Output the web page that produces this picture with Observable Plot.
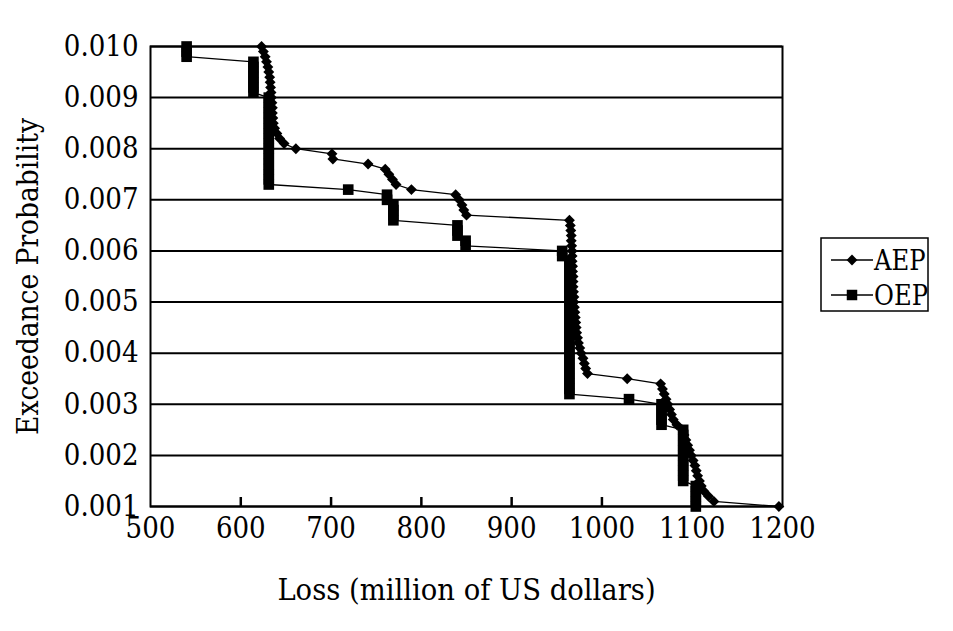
<!DOCTYPE html>
<html><head><meta charset="utf-8">
<script src="https://cdn.jsdelivr.net/npm/d3@7"></script>
<script src="https://cdn.jsdelivr.net/npm/@observablehq/plot@0.6"></script>
<style>
html,body{margin:0;padding:0;background:#fff;}
#chart{position:relative;width:953px;height:631px;}
</style></head><body><div id="chart"></div>
<script>
const probabilities = [
  0.0100, 0.0099, 0.0098, 0.0097, 0.0096, 0.0095, 0.0094, 0.0093, 0.0092, 0.0091,
  0.0090, 0.0089, 0.0088, 0.0087, 0.0086, 0.0085, 0.0084, 0.0083, 0.0082, 0.0081,
  0.0080, 0.0079, 0.0078, 0.0077, 0.0076, 0.0075, 0.0074, 0.0073, 0.0072, 0.0071,
  0.0070, 0.0069, 0.0068, 0.0067, 0.0066, 0.0065, 0.0064, 0.0063, 0.0062, 0.0061,
  0.0060, 0.0059, 0.0058, 0.0057, 0.0056, 0.0055, 0.0054, 0.0053, 0.0052, 0.0051,
  0.0050, 0.0049, 0.0048, 0.0047, 0.0046, 0.0045, 0.0044, 0.0043, 0.0042, 0.0041,
  0.0040, 0.0039, 0.0038, 0.0037, 0.0036, 0.0035, 0.0034, 0.0033, 0.0032, 0.0031,
  0.0030, 0.0029, 0.0028, 0.0027, 0.0026, 0.0025, 0.0024, 0.0023, 0.0022, 0.0021,
  0.0020, 0.0019, 0.0018, 0.0017, 0.0016, 0.0015, 0.0014, 0.0013, 0.0012, 0.0011,
  0.0010
];
const aepLoss = [
  623, 625, 627, 628.5, 630, 631, 632, 632.5, 633, 633.5,
  634, 634.5, 635, 635, 635.5, 636, 637.5, 640, 643, 648,
  661, 701, 702, 741, 760, 764, 768, 772, 789, 838,
  842, 845, 847, 850, 964, 965, 965.5, 966, 966, 966.5,
  967, 967, 967, 967.5, 967.5, 968, 968, 968, 968.5, 969,
  969, 969.5, 970, 970.5, 971, 971.5, 972, 973, 974, 975.5,
  977, 979, 980.5, 982, 984, 1028, 1065, 1067, 1069, 1071,
  1073, 1075, 1077, 1079, 1083, 1089, 1091, 1093, 1095, 1097,
  1099, 1101, 1103, 1104.5, 1106, 1108, 1110, 1113, 1118, 1124,
  1196
];
const oepLoss = [
  540, 540, 540, 614, 614, 614, 614, 614, 614, 614,
  631, 631, 631, 631, 631, 631, 631, 631, 631, 631,
  631, 631, 631, 631, 631, 631, 631, 631, 719, 762,
  762, 769, 769, 769, 769, 840, 840, 840, 849, 849,
  956, 956, 964, 964, 964, 964, 964, 964, 964, 964,
  964, 964, 964, 964, 964, 964, 964, 964, 964, 964,
  964, 964, 964, 964, 964, 964, 964, 964, 964, 1030,
  1066, 1066, 1066, 1066, 1066, 1090, 1090, 1090, 1090, 1090,
  1090, 1090, 1090, 1090, 1090, 1090, 1104, 1104, 1104, 1104,
  1104
];
const xTicks = [500, 600, 700, 800, 900, 1000, 1100, 1200];
const yTicks = [0.001, 0.002, 0.003, 0.004, 0.005, 0.006, 0.007, 0.008, 0.009, 0.010];
const seriesNames = ["AEP", "OEP"];
const xLabel = "Loss (million of US dollars)";
const yLabel = "Exceedance Probability";

const aep = probabilities.map((p, i) => ({p, loss: aepLoss[i]}));
const oep = probabilities.map((p, i) => ({p, loss: oepLoss[i]}));

const FONT = '"DejaVu Serif Condensed", "DejaVu Serif", serif';

const chart = Plot.plot({
  width: 953,
  height: 631,
  marginLeft: 150,
  marginRight: 171,
  marginTop: 46,
  marginBottom: 125,
  style: {fontFamily: FONT, fontSize: "29px", fontStretch: "condensed", color: "#000", background: "#fff", overflow: "visible"},
  x: {domain: [500, 1200]},
  y: {domain: [0.001, 0.010]},
  marks: [
    Plot.ruleY(yTicks, {stroke: "#000", strokeWidth: 2}),
    Plot.ruleX(xTicks.slice(1, -1), {stroke: "#000", strokeWidth: 2.5, insetTop: 451}),
    Plot.frame({stroke: "#000", strokeWidth: 2}),
    Plot.line(aep, {x: "loss", y: "p", stroke: "#000", strokeWidth: 1.3}),
    Plot.line(oep, {x: "loss", y: "p", stroke: "#000", strokeWidth: 1.3}),
    Plot.dot(aep, {x: "loss", y: "p", symbol: "diamond2", r: 4.9, fill: "#000", stroke: "none"}),
    Plot.dot(oep, {x: "loss", y: "p", symbol: "square", r: 6, fill: "#000", stroke: "none"}),
    Plot.axisX({ticks: xTicks, tickSize: 0, tickPadding: 11, tickFormat: d3.format("d"),
      label: null}),
    Plot.axisY({ticks: yTicks, tickSize: 0, tickPadding: 12, tickFormat: d3.format(".3f"),
      label: null}),
    Plot.text([xLabel], {frameAnchor: "bottom", dy: 84, text: d => d, fontSize: 30.5, lineAnchor: "middle", textAnchor: "middle"}),
    Plot.text([yLabel], {frameAnchor: "left", dx: -122, rotate: -90, text: d => d, fontSize: 29.5, lineAnchor: "middle", textAnchor: "middle"})
  ]
});
document.getElementById("chart").appendChild(chart);

// Legend
const svg = d3.select(chart);
const lg = svg.append("g").attr("font-family", FONT).attr("font-size", 27)
  .attr("font-stretch", "condensed").attr("text-anchor", "start");
lg.append("rect").attr("x", 821).attr("y", 238).attr("width", 107).attr("height", 73)
  .attr("fill", "#fff").attr("stroke", "#000").attr("stroke-width", 1.5);
const rows = [{name: seriesNames[0], y: 260, shape: d3.symbolDiamond2, size: 75},
              {name: seriesNames[1], y: 295, shape: d3.symbolSquare, size: 110}];
rows.forEach(r => {
  lg.append("line").attr("x1", 831).attr("x2", 873).attr("y1", r.y).attr("y2", r.y)
    .attr("stroke", "#000").attr("stroke-width", 1.3);
  lg.append("path").attr("d", d3.symbol(r.shape, r.size)()).attr("transform", `translate(852,${r.y})`).attr("fill", "#000");
  lg.append("text").attr("x", 874).attr("y", r.y).attr("dy", "0.36em").text(r.name);
});
</script>
</body></html>
